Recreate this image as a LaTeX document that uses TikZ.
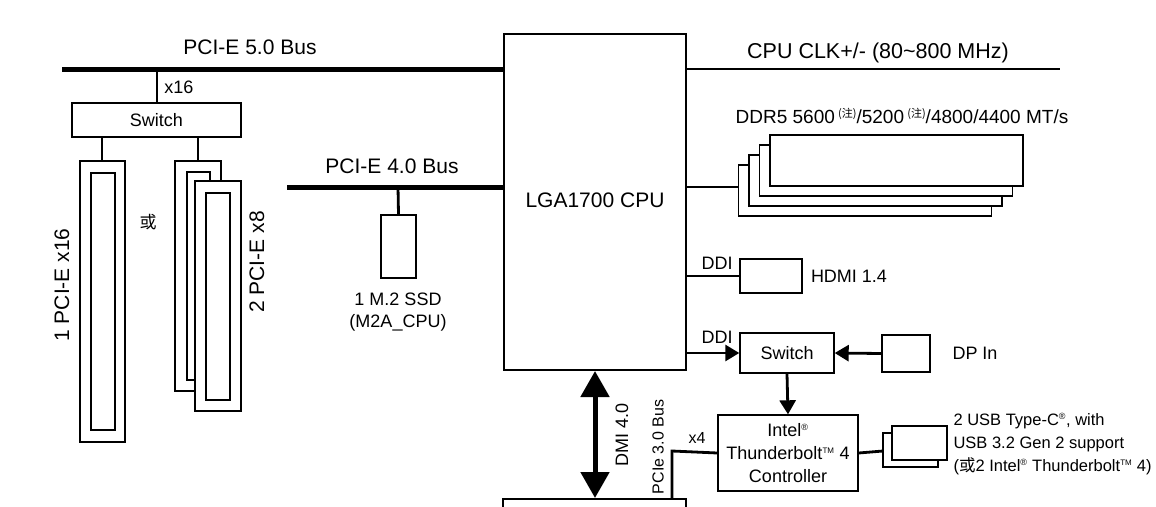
\documentclass[tikz,border=0pt]{standalone}
\usepackage{fontspec}
\setmainfont{Liberation Sans}
\newfontfamily\cjk{Noto Sans CJK SC}
\usetikzlibrary{arrows.meta}
\newcommand{\regm}{\textsuperscript{\fontsize{9}{9}\selectfont\textregistered}}
\newcommand{\tmm}{\textsuperscript{\fontsize{8}{8}\selectfont TM}}
\begin{document}
\begin{tikzpicture}[x=1pt,y=-1pt,
  box/.style={draw,line width=1.4pt,fill=white,inner sep=0pt},
  bus/.style={line width=5pt},
  med/.style={line width=2.8pt},
  thin/.style={line width=1.4pt},
  big/.style={font=\fontsize{21}{24}\selectfont},
  mid/.style={font=\fontsize{18}{21}\selectfont},
  sm/.style={font=\fontsize{16}{19}\selectfont},
  arr/.style={med,-{Triangle[length=14pt,width=16pt]}}]
\useasboundingbox (0,0) rectangle (1156,506);
% CPU
\draw[line width=2.4pt] (504,34) rectangle (686,370);
\node[big] (cpu) at (595,200) {LGA1700 CPU};
\draw[line width=2.4pt] (503,530) -- (503,499) -- (686,499) -- (686,530);
% top buses
\coordinate (b5a) at (62,69); \coordinate (b5b) at (504,69);
\draw[bus] (b5a) -- (b5b);
\node[big] (l5) at (250,47) {PCI-E 5.0 Bus};
\coordinate (ck1) at (686,69); \coordinate (ck2) at (1060,69);
\draw[med] (ck1) -- (ck2);
\node[big,font=\fontsize{21.5}{24}\selectfont] (lck) at (878,53) {CPU CLK+/- (80\textasciitilde800 MHz)};
% switch 1
\node[box,minimum width=169pt,minimum height=34pt] (sw1) at (156.5,120) {};
\node[mid] at (sw1) {Switch};
\coordinate (x16t) at (157,69);
\draw[med] (x16t) -- (sw1.north -| x16t);
\node[mid] (x16) at (179,87) {x16};
\draw[med] (102,137) -- (102,161);
\draw[med] (198,137) -- (198,161);
% slot 1
\draw[thin] (80,161) rectangle (125,442);
\draw[thin] (91,173) rectangle (115,430);
% slot 2 back
\draw[thin,fill=white] (175,161) rectangle (221,391);
\draw[thin] (187,172) rectangle (210,380);
% slot 2 front
\draw[thin,fill=white] (195,181) rectangle (241,411);
\draw[thin] (206,193) rectangle (230,400);
\node[font=\cjk\fontsize{17}{20}\selectfont] (or1) at (148,222) {或};
\node[big,rotate=90] (s1) at (62,285) {1 PCI-E x16};
\node[big,rotate=90] (s2) at (257,262) {2 PCI-E x8};
% PCI-E 4.0
\coordinate (b4a) at (287,187); \coordinate (b4b) at (504,187);
\draw[bus] (b4a) -- (b4b);
\node[big] (l4) at (392,166) {PCI-E 4.0 Bus};
\node[box,minimum width=35pt,minimum height=63pt] (m2) at (398.5,246.5) {};
\draw[med] (398,187) -- (m2.north);
\node[mid] (m2l) at (398,299) {1 M.2 SSD};
\node[mid] (m2l2) at (398,323) {(M2A\_CPU)};
% DDR
\draw[med] (686,187) -- (738,187);
\foreach \i in {3,2,1,0}{
  \draw[thin,fill=white] (770-10.5*\i,135+10*\i) rectangle (1023-10.5*\i,186+10*\i);}
\node[font=\fontsize{19}{22}\selectfont] (ddr) at (902,116) {DDR5 5600\,\raisebox{6pt}{\cjk\fontsize{11}{11}\selectfont(注)}/5200\,\raisebox{6pt}{\cjk\fontsize{11}{11}\selectfont(注)}/4800/4400 MT/s};
% HDMI
\node[box,minimum width=62pt,minimum height=34pt] (hdmi) at (771,276) {};
\draw[med] (686,276) -- (hdmi.west);
\node[mid] (ddi1) at (717,263) {DDI};
\node[mid] (hl) at (849,276) {HDMI 1.4};
% Switch 2
\node[box,minimum width=94pt,minimum height=40pt] (sw2) at (787,353) {};
\node[mid] at (sw2) {Switch};
\coordinate (cpuD) at (686,353);
\draw[arr] (cpuD) -- (sw2.west);
\node[mid] (ddi2) at (717,337) {DDI};
\node[box,minimum width=48pt,minimum height=37pt] (dp) at (906,353.5) {};
\draw[arr] (dp.west) -- (sw2.east);
\node[mid] (dpl) at (975,353) {DP In};
% TB
\node[box,minimum width=140pt,minimum height=76pt] (tb) at (788,453) {};
\node[align=center,font=\fontsize{18}{23}\selectfont] at (tb) {Intel\regm\\Thunderbolt\tmm\ 4\\Controller};
\draw[arr] (sw2.south) -- (tb.north);
% DMI
\coordinate (dmiT) at (595,371); \coordinate (dmiB) at (595,498);
\draw[line width=5pt,{Triangle[length=26pt,width=28pt]}-{Triangle[length=26pt,width=28pt]}] (dmiT) -- (dmiB);
\node[mid,rotate=90] (dmil) at (622,435) {DMI 4.0};
\node[sm,rotate=90] (pcil) at (658,447) {PCIe 3.0 Bus};
\coordinate (pc0) at (672,499);
\draw[med] (pc0) -- (672,451) -- (tb.west);
\node[sm] (x4) at (697,438) {x4};
% USB
\draw[med] (tb.east) -- (883,451);
\draw[thin,fill=white] (883,433) rectangle (938,467);
\draw[thin,fill=white] (892,426) rectangle (947,460);
\node[anchor=west,align=left,font=\fontsize{16.5}{23}\selectfont] (usb) at (950,444) {2 USB Type-C\regm, with\\USB 3.2 Gen 2 support\\({\cjk 或}2 Intel\regm\ Thunderbolt\tmm\ 4)};
\end{tikzpicture}
\end{document}
